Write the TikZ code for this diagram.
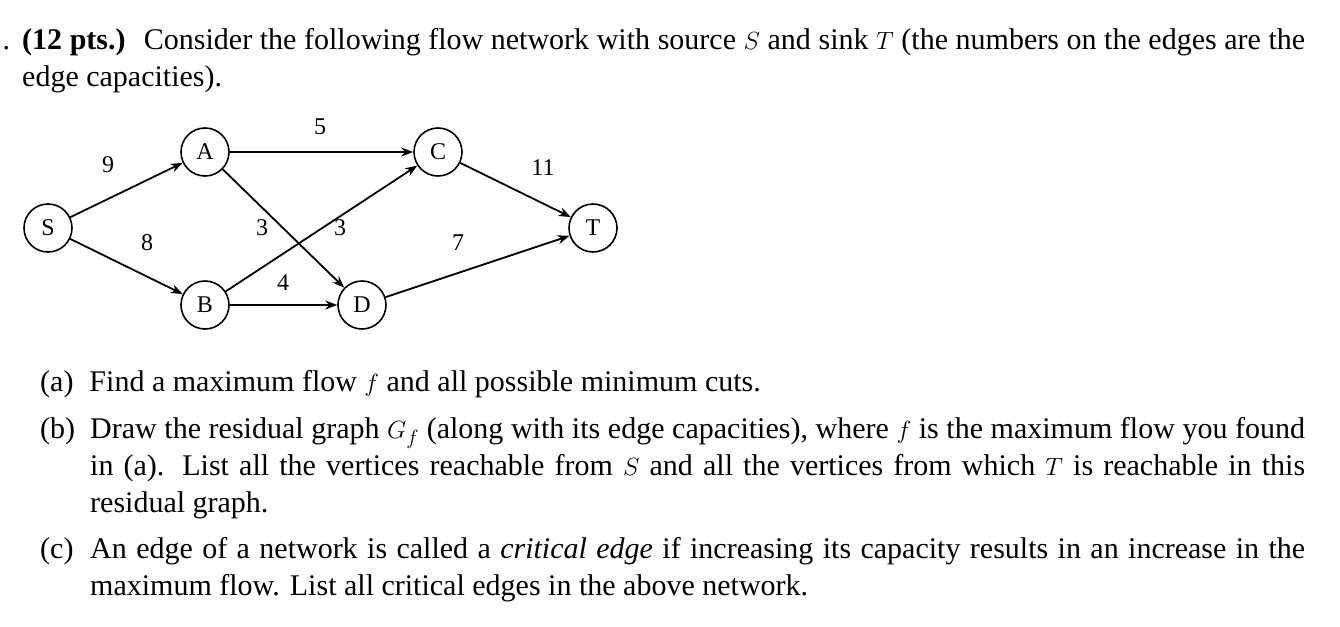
\documentclass[tikz,border=0pt]{standalone}
\usepackage{fontspec}
\setmainfont{Liberation Serif}
\usetikzlibrary{arrows.meta}
\begin{document}
\begin{tikzpicture}[x=1pt,y=-1pt,
  vtx/.style={circle,draw,line width=1.6pt,minimum size=48pt,inner sep=0pt,font=\fontsize{24}{26}\selectfont},
  edg/.style={line width=1.8pt,-{Stealth[length=12pt,width=9pt]}},
  lab/.style={font=\fontsize{24}{26}\selectfont,inner sep=0pt},
  para/.style={anchor=north west,inner sep=0pt,align=justify,font=\fontsize{30}{37}\selectfont}]
\useasboundingbox (0,0) rectangle (1340,626);
\node[para,text width=1283pt] (hd) at (22,28) {\llap{.\hspace{12pt}}\textbf{(12 pts.)}\hspace{8pt} Consider the following flow network with source $S$ and sink $T$ (the numbers on the edges are the edge capacities).};
\node[vtx] (S) at (48,228) {S};
\node[vtx] (A) at (205,152) {A};
\node[vtx] (B) at (205,305) {B};
\node[vtx] (C) at (438,152) {C};
\node[vtx] (D) at (362,305) {D};
\node[vtx] (T) at (593,228) {T};
\draw[edg] (S) -- (A);
\draw[edg] (S) -- (B);
\draw[edg] (A) -- (C);
\draw[edg] (A) -- (D);
\draw[edg] (B) -- (C);
\draw[edg] (B) -- (D);
\draw[edg] (C) -- (T);
\draw[edg] (D) -- (T);
\node[lab] (l9) at (108,165) {9};
\node[lab] (l8) at (147,243) {8};
\node[lab] (l5) at (320,127) {5};
\node[lab] (l11) at (543,168) {11};
\node[lab] (l3a) at (262,228) {3};
\node[lab] (l3b) at (340,228) {3};
\node[lab] (l7) at (458,243) {7};
\node[lab] (l4) at (283,283) {4};
\node[para] (a) at (40,370) {(a)\hspace{16pt}Find a maximum flow $f$ and all possible minimum cuts.};
\node[para] (bl) at (40,417) {(b)};
\node[para,text width=1215pt] (b) at (90,417) {Draw the residual graph $G_f$ (along with its edge capacities), where $f$ is the maximum flow you found\linebreak in (a). List all the vertices reachable from $S$ and all the vertices from which $T$ is reachable in this\linebreak residual graph.};
\node[para] (cl) at (40,537) {(c)};
\node[para,text width=1215pt] (c) at (90,537) {An edge of a network is called a \textit{critical edge} if increasing its capacity results in an increase in the maximum flow. List all critical edges in the above network.};
\end{tikzpicture}
\end{document}
